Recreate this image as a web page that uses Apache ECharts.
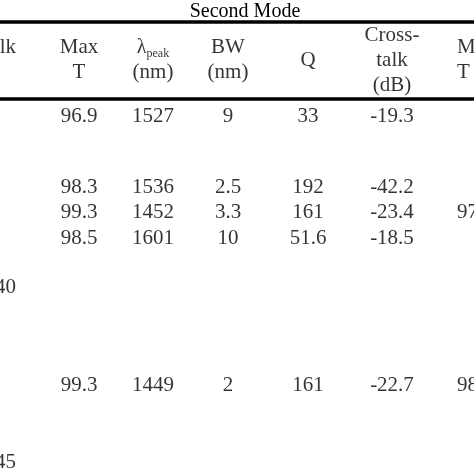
<!DOCTYPE html>
<html><head><meta charset="utf-8">
<script src="https://cdn.jsdelivr.net/npm/echarts@6/dist/echarts.min.js"></script>
<style>html,body{margin:0;background:#fff}#c{width:474px;height:474px}</style>
</head><body><div id="c"></div>
<script>
var title = 'Second Mode';
var headers = ['Max\nT', '{l|λ}{s|peak}\n(nm)', 'BW\n(nm)', 'Q', 'Cross-\ntalk\n(dB)'];
var maxT = ['96.9', '98.3', '99.3', '98.5', '99.3'];
var lambdaPeak = ['1527', '1536', '1452', '1601', '1449'];
var bw = ['9', '2.5', '3.3', '10', '2'];
var qFactor = ['33', '192', '161', '51.6', '161'];
var crossTalk = ['-19.3', '-42.2', '-23.4', '-18.5', '-22.7'];
var rowY = [116, 187, 212, 238, 385];
var colX = [79, 153, 228, 308, 392];
// partly visible columns at the edges
var leftCut = [['lk', 47], ['40', 287], ['45', 462]];
var rightCut = [['M', 47], ['T', 72], ['97', 212], ['98', 385]];

var chart = echarts.init(document.getElementById('c'));
var font = 'Liberation Serif';
var cells = [];
[maxT, lambdaPeak, bw, qFactor, crossTalk].forEach(function (col, ci) {
  col.forEach(function (v, ri) { cells.push({ value: [colX[ci], rowY[ri]], label: { formatter: v } }); });
});
headers.forEach(function (h, ci) {
  cells.push({ value: [colX[ci], 60], label: { formatter: h } });
});
leftCut.forEach(function (d) { cells.push({ value: [16, d[1]], label: { formatter: d[0], align: 'right' } }); });
rightCut.forEach(function (d) { cells.push({ value: [457, d[1]], label: { formatter: d[0], align: 'left' } }); });

chart.setOption({
  backgroundColor: '#fff',
  animation: false,
  title: { text: title, left: 240, top: -3, textAlign: 'center',
    textStyle: { fontFamily: font, fontSize: 20, fontWeight: 'normal', color: '#000' } },
  grid: { left: 0, right: 0, top: 0, bottom: 0 },
  xAxis: { type: 'value', min: 0, max: 474, show: false },
  yAxis: { type: 'value', min: 0, max: 474, inverse: true, show: false },
  graphic: [
    { type: 'line', shape: { x1: 0, y1: 22, x2: 474, y2: 22 }, style: { stroke: '#000', lineWidth: 3.5 } },
    { type: 'line', shape: { x1: 0, y1: 99, x2: 474, y2: 99 }, style: { stroke: '#000', lineWidth: 3.5 } }
  ],
  series: [{
    type: 'scatter', symbolSize: 0, data: cells, silent: true,
    label: { show: true, position: 'inside', align: 'center', verticalAlign: 'middle',
      fontFamily: font, fontSize: 21, lineHeight: 25, color: '#000',
      rich: { l: { fontFamily: font, fontSize: 20, color: '#000' },
              s: { fontFamily: font, fontSize: 12, color: '#000', verticalAlign: 'bottom', padding: [7, 0, 0, 0] } } }
  }]
});
window.addEventListener('resize', chart.resize);
</script></body></html>
